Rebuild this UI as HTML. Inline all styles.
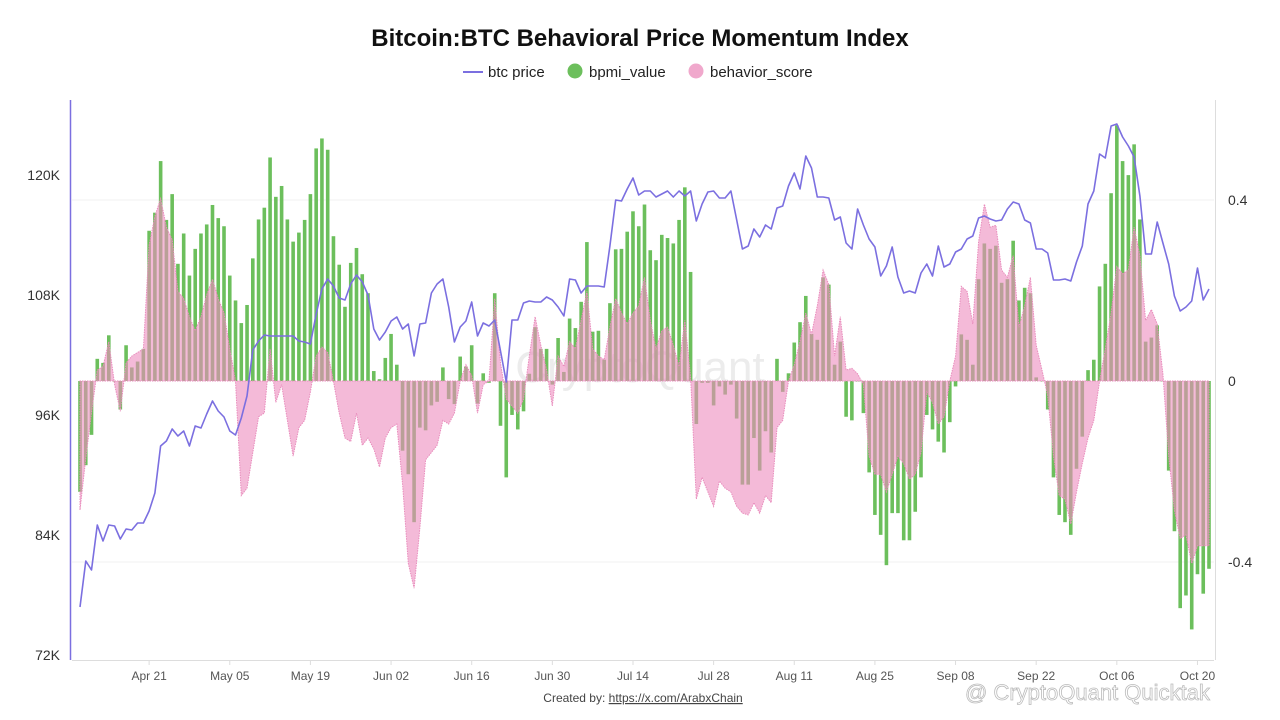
<!DOCTYPE html>
<html><head><meta charset="utf-8">
<style>
html,body{margin:0;padding:0;background:#fff;width:1280px;height:720px;overflow:hidden;font-family:"Liberation Sans",sans-serif;}
svg{display:block}
</style></head>
<body>
<svg id="chart" width="1280" height="720" viewBox="0 0 1280 720" xmlns="http://www.w3.org/2000/svg">
<text x="640" y="46" text-anchor="middle" font-size="24" font-weight="bold" fill="#111">Bitcoin:BTC Behavioral Price Momentum Index</text>
<g>
 <g><line x1="463" y1="72" x2="483" y2="72" stroke="#7b6fe0" stroke-width="2"/><text x="488" y="77" font-size="15" fill="#222">btc price</text></g>
 <g><circle cx="575" cy="71" r="7.5" fill="#6cbf5c"/><text x="589" y="77" font-size="15" fill="#222">bpmi_value</text></g>
 <g><circle cx="696" cy="71" r="7.5" fill="#f0a8cc"/><text x="710" y="77" font-size="15" fill="#222">behavior_score</text></g>
</g>
<text x="640" y="382" text-anchor="middle" font-size="44" fill="#e4e4e4" opacity="0.7">CryptoQuant</text>
<g id="plot"></g>
<text x="643" y="702" text-anchor="middle" font-size="12" fill="#444">Created by: <tspan text-decoration="underline">https://x.com/ArabxChain</tspan></text>
<text x="965" y="700" font-size="22" fill="#fff" stroke="#bbb" stroke-width="0.8">@ CryptoQuant Quicktak</text>
</svg>
<script>
const dayLabels=["Apr 21","May 05","May 19","Jun 02","Jun 16","Jun 30","Jul 14","Jul 28","Aug 11","Aug 25","Sep 08","Sep 22","Oct 06","Oct 20"];
const priceTicks=[72,84,96,108,120];
const scoreTicks=[-0.4,0,0.4];
const btcPrice=[76.8,81.4,80.5,85.0,83.4,85.0,84.9,83.6,84.6,84.5,85.2,85.2,86.4,88.2,92.9,93.4,94.6,93.9,94.4,92.9,94.9,94.7,96.1,97.4,96.4,95.8,94.4,94.0,95.7,97.9,102.5,103.4,104.0,103.9,103.9,103.9,103.9,103.9,103.4,103.3,103.1,106.1,108.6,109.6,108.9,107.7,107.5,109.1,110.0,109.3,108.0,104.6,103.5,104.3,105.4,105.8,104.6,105.1,101.9,105.1,105.2,108.2,109.1,109.6,106.8,103.3,104.8,105.4,107.3,
103.9,105.2,104.9,105.5,102.4,99.3,105.5,105.5,107.2,107.4,107.3,107.3,107.8,107.5,106.8,105.9,109.6,109.5,108.2,108.9,108.9,108.9,108.8,112.9,117.5,117.4,118.6,119.7,118.0,118.4,118.4,117.8,118.1,118.4,117.8,118.4,117.9,118.4,115.4,117.1,118.3,118.4,117.7,117.7,118.4,115.5,112.6,112.9,114.6,113.8,115.0,114.6,116.7,116.9,118.9,120.2,118.6,121.9,120.7,117.8,117.8,117.7,115.5,115.8,113.2,112.6,116.6,
115.0,113.6,112.8,109.9,110.9,112.8,109.8,108.2,108.4,108.2,110.2,111.1,109.9,112.9,110.8,111.1,112.3,112.6,113.6,113.9,115.7,115.9,115.6,115.4,115.5,116.6,117.3,117.1,115.5,115.2,112.6,112.6,112.2,109.5,109.5,109.6,109.4,111.3,112.9,117.1,118.4,122.1,121.7,124.9,125.1,123.8,122.9,121.8,117.9,112.1,112.1,115.3,113.2,111.1,107.9,106.4,106.8,107.4,110.7,107.5,108.6];
const bpmiValue=[-0.245,-0.186,-0.119,0.049,0.040,0.101,0.0,-0.063,0.079,0.030,0.043,0.071,0.332,0.372,0.486,0.356,0.413,0.259,0.326,0.233,0.292,0.326,0.346,0.389,0.360,0.342,0.233,0.178,0.128,0.168,0.271,0.357,0.383,0.494,0.407,0.431,0.357,0.308,0.328,0.356,0.413,0.514,0.536,0.511,0.320,0.257,0.164,0.261,0.294,0.236,0.194,0.022,0.004,0.051,0.104,0.036,-0.154,-0.206,-0.312,-0.103,-0.109,-0.054,-0.046,0.030,-0.040,-0.051,0.054,0.032,0.079,
-0.05,0.017,-0.004,0.194,-0.099,-0.213,-0.075,-0.107,-0.067,0.016,0.119,0.071,0.071,-0.008,0.095,0.020,0.138,0.117,0.175,0.307,0.109,0.111,0.047,0.172,0.291,0.292,0.330,0.375,0.342,0.390,0.289,0.267,0.323,0.316,0.304,0.356,0.428,0.241,-0.095,-0.004,-0.004,-0.054,-0.012,-0.030,-0.008,-0.083,-0.229,-0.229,-0.126,-0.198,-0.111,-0.158,0.049,-0.024,0.017,0.085,0.130,0.188,0.104,0.091,0.229,0.213,0.036,0.087,-0.079,-0.087,0.0,
-0.071,-0.202,-0.296,-0.340,-0.407,-0.292,-0.292,-0.352,-0.352,-0.289,-0.213,-0.075,-0.107,-0.134,-0.158,-0.091,-0.012,0.103,0.091,0.036,0.225,0.304,0.292,0.299,0.217,0.225,0.310,0.178,0.206,0.194,0.008,0.0,-0.063,-0.213,-0.296,-0.312,-0.340,-0.194,-0.123,0.024,0.047,0.209,0.259,0.415,0.565,0.486,0.455,0.523,0.357,0.087,0.096,0.123,0.0,-0.198,-0.332,-0.502,-0.474,-0.549,-0.427,-0.470,-0.415];
const behaviorScore=[-0.285,-0.17,-0.07,0.024,0.032,0.087,-0.008,-0.067,0.04,0.055,0.063,0.071,0.300,0.364,0.403,0.340,0.312,0.198,0.182,0.142,0.111,0.142,0.190,0.225,0.182,0.150,0.071,0.0,-0.253,-0.237,-0.158,-0.079,-0.071,0.071,-0.047,-0.008,-0.087,-0.166,-0.103,-0.087,-0.024,0.055,0.075,0.063,0.0,-0.071,-0.126,-0.134,-0.071,-0.142,-0.126,-0.150,-0.190,-0.126,-0.103,-0.095,-0.229,-0.403,-0.458,-0.324,-0.174,-0.158,-0.142,-0.087,-0.095,-0.071,0.0,0.036,0.012,
-0.071,-0.008,0.0,0.182,0.040,-0.04,-0.055,-0.071,-0.040,0.055,0.142,0.079,0.024,-0.055,0.055,0.032,0.087,0.071,0.134,0.198,0.071,0.055,0.047,0.119,0.182,0.150,0.126,0.150,0.166,0.229,0.134,0.071,0.111,0.119,0.079,0.032,0.134,0.008,-0.261,-0.213,-0.245,-0.277,-0.221,-0.237,-0.245,-0.277,-0.292,-0.296,-0.269,-0.292,-0.253,-0.269,-0.103,-0.087,0.0,0.036,0.087,0.150,0.103,0.166,0.245,0.213,0.055,0.142,0.024,0.028,0.016,
-0.008,-0.166,-0.206,-0.206,-0.245,-0.206,-0.166,-0.182,-0.217,-0.206,-0.158,-0.024,-0.047,-0.095,-0.079,0.0,0.055,0.209,0.198,0.126,0.308,0.391,0.340,0.344,0.245,0.229,0.277,0.119,0.166,0.229,0.079,0.024,-0.032,-0.166,-0.253,-0.261,-0.316,-0.245,-0.182,-0.126,-0.087,0.0,0.071,0.150,0.253,0.237,0.245,0.340,0.277,0.134,0.158,0.126,0.016,-0.166,-0.285,-0.348,-0.340,-0.403,-0.364,-0.364,-0.364];

const NS="http://www.w3.org/2000/svg";
const plot=document.getElementById('plot');
const X0=80, X1=1209, N=btcPrice.length;
const xDay=i=>X0+(X1-X0)*i/(N-1);
const yPrice=p=>655-(p-72)*10;
const yScore=v=>381-v*452.5;
function mk(tag,attrs,parent){const e=document.createElementNS(NS,tag);for(const k in attrs)e.setAttribute(k,attrs[k]);(parent||plot).appendChild(e);return e;}

// grid
scoreTicks.forEach(v=>{if(v!==0){const g=mk('line',{x1:72,x2:1214,y1:yScore(v),y2:yScore(v),stroke:'#f2f2f2','stroke-width':1});

}});
// axes
const la=mk('line',{x1:70.5,x2:70.5,y1:100,y2:660,stroke:'#7b6fe0','stroke-width':1.5});


const ra=mk('line',{x1:1215.5,x2:1215.5,y1:100,y2:660,stroke:'#ddd','stroke-width':1});


const xa=mk('line',{x1:72,x2:1214,y1:660.5,y2:660.5,stroke:'#ddd','stroke-width':1});



priceTicks.forEach(p=>{const t=mk('text',{x:60,y:yPrice(p)+5,'text-anchor':'end','font-size':14,fill:'#333'});t.textContent=p+'K';

});
scoreTicks.forEach(v=>{const t=mk('text',{x:1228,y:yScore(v)+5,'font-size':14,fill:'#333'});t.textContent=(v===0?'0':String(v));

});
dayLabels.forEach((d,k)=>{const i=12+14*k;const x=xDay(i);
const tk=mk('line',{x1:x,x2:x,y1:660,y2:665,stroke:'#ddd'});


const t=mk('text',{x:x,y:680,'text-anchor':'middle','font-size':12,fill:'#555'});t.textContent=d;

});

// bars
const bg=mk('g',{});


bpmiValue.forEach((v,i)=>{const y0=yScore(0),y1=yScore(v);
const r=mk('rect',{x:xDay(i)-1.8,y:Math.min(y0,y1),width:3.6,height:Math.max(0.5,Math.abs(y1-y0)),fill:'#6cbf5c'},bg);

});

// area
let d='M'+xDay(0)+','+yScore(0);
behaviorScore.forEach((v,i)=>{d+=' L'+xDay(i).toFixed(1)+','+yScore(v).toFixed(1);});
d+=' L'+xDay(N-1)+','+yScore(0)+' Z';
const ar=mk('path',{d:d,fill:'rgba(236,140,190,0.6)',stroke:'#e88cbc','stroke-width':1,'stroke-dasharray':'1.5,1'});



// price line
let pd='';
btcPrice.forEach((p,i)=>{pd+=(i?' L':'M')+xDay(i).toFixed(1)+','+yPrice(p).toFixed(1);});
const pl=mk('path',{d:pd,fill:'none',stroke:'#7b6fe0','stroke-width':1.6,'stroke-linejoin':'round'});


</script>
</body></html>
